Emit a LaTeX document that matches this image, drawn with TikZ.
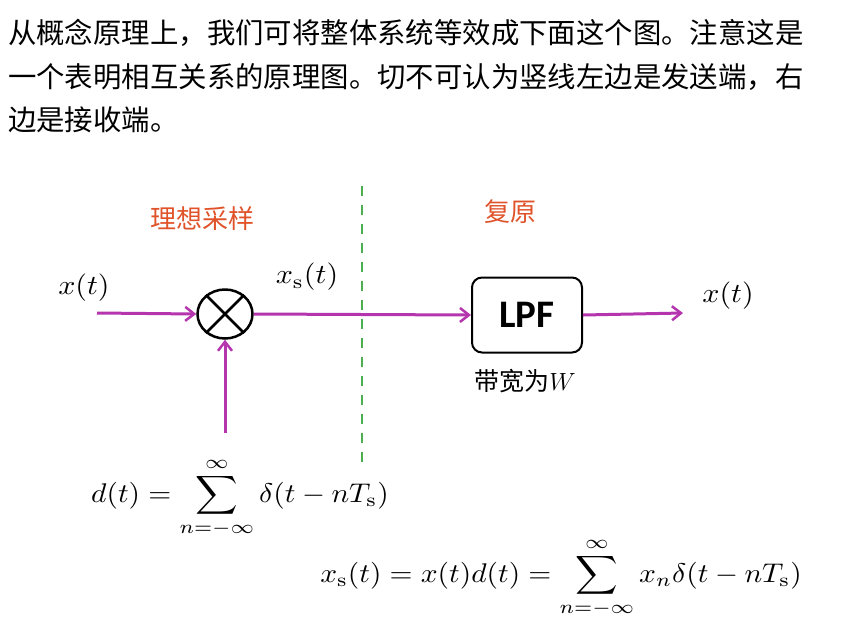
\documentclass[tikz,border=0pt]{standalone}
\usepackage{fontspec}
\newfontfamily\cjk{Noto Sans CJK SC}
\newfontfamily\lpffont{Carlito}
\usetikzlibrary{arrows.meta, positioning, shapes.geometric}
\definecolor{cmag}{HTML}{B535AE}
\definecolor{cgreen}{HTML}{4CAF50}
\definecolor{corange}{HTML}{E0532A}
\tikzset{
  sig/.style={-{Straight Barb[length=9pt, width=14pt, line width=2.5pt]}, draw=cmag, line width=3pt},
  para/.style={font=\cjk\fontsize{28.4}{34}\selectfont, anchor=west, inner sep=0pt},
  stage/.style={font=\cjk\fontsize{26}{30}\selectfont, text=corange, inner sep=0pt},
  lbl/.style={inner sep=0pt},
  mult/.style={draw, ellipse, line width=2.5pt, minimum width=55pt, minimum height=49pt, inner sep=0pt},
  filt/.style={draw, rounded corners=10pt, line width=2pt, minimum width=110pt, minimum height=75pt,
    font=\lpffont\bfseries\fontsize{39}{42}\selectfont},
}
% math set at 10pt and blown up to the reference size
\newcommand{\bigmath}[1]{\scalebox{3.0}[2.75]{$#1$}}
\newcommand{\formula}[1]{\scalebox{2.95}[2.7]{$\displaystyle #1$}}

\begin{document}
\begin{tikzpicture}[x=1pt, y=-1pt]
  \useasboundingbox (0,0) rectangle (853,640);
  % explanatory text above the diagram
  \node[para] (line1) at (8,33) {从概念原理上，我们可将整体系统等效成下面这个图。注意这是};
  \node[para] (line2) at (8,77) {一个表明相互关系的原理图。切不可认为竖线左边是发送端，右};
  \node[para] (line3) at (8,120) {边是接收端。};
  % stage titles and the dividing line
  \node[stage] (samp) at (202,219) {理想采样};
  \node[stage] (recov) at (510,212) {复原};
  \coordinate (divtop) at (362,186);
  \coordinate (divbot) at (362,462);
  \draw[cgreen, line width=2.5pt, dash pattern=on 10pt off 9pt] (divtop) -- (divbot);
  % blocks
  \node[mult] (mul) at (225,314) {};
  \draw[line width=2.5pt] (mul.45) -- (mul.225) (mul.135) -- (mul.315);
  \node[filt] (lpf) at (527,315) {LPF};
  % signal paths
  \coordinate (xin) at (97,313);
  \coordinate (dsrc) at (225,433);
  \coordinate (xout) at (683,313);
  \draw[sig] (xin) -- (mul.west);
  \draw[sig] (dsrc) -- (mul.south);
  \draw[sig] (mul.east) -- (lpf.west);
  \draw[sig] (lpf.east) -- (xout);
  % labels
  \node[lbl] (xinlbl) at (84,288) {\bigmath{x(t)}};
  \node[lbl] (xslbl) at (307,277) {\bigmath{x_{\mathrm{s}}(t)}};
  \node[lbl] (xoutlbl) at (728,296) {\bigmath{x(t)}};
  \node[lbl, font=\cjk\fontsize{25}{30}\selectfont] (bw) at (525,381) {带宽为$W$};
  % formulas
  \node[lbl] (dform) at (240,498)
    {\formula{d(t)=\sum_{n=-\infty}^{\infty}\delta(t-nT_{\mathrm{s}})}};
  \node[lbl] (xsform) at (561,578)
    {\formula{x_{\mathrm{s}}(t)=x(t)d(t)=\sum_{n=-\infty}^{\infty}x_n\delta(t-nT_{\mathrm{s}})}};
\end{tikzpicture}
\end{document}
